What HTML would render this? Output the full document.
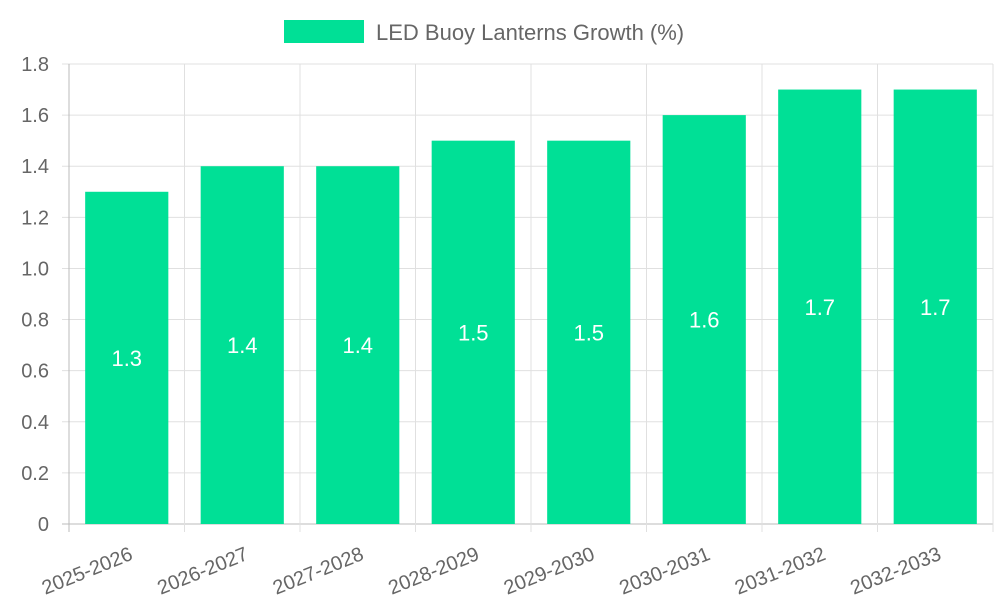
<!DOCTYPE html>
<html><head><meta charset="utf-8"><style>
body{margin:0;background:#fff;}
svg{display:block;font-family:"Liberation Sans",sans-serif;}
</style></head><body>
<svg id="chart" width="1000" height="600">
<g>
<rect x="284" y="20" width="80" height="23" fill="#00e096"></rect>
<text x="376" y="40" font-size="22" fill="#666">LED Buoy Lanterns Growth (%)</text>
</g>
<g id="grid"></g><g id="bars"></g><g id="labels"></g>
</svg>
<script>
const categories=["2025-2026","2026-2027","2027-2028","2028-2029","2029-2030","2030-2031","2031-2032","2032-2033"];
const values=[1.3,1.4,1.4,1.5,1.5,1.6,1.7,1.7];
const yTicks=[0,0.2,0.4,0.6,0.8,1.0,1.2,1.4,1.6,1.8];
const yTickLabels=["0","0.2","0.4","0.6","0.8","1.0","1.2","1.4","1.6","1.8"];
const L=69,R=993,T=64,B=524,yMax=1.8;
const ns="http://www.w3.org/2000/svg";
const step=(R-L)/categories.length;
const y=v=>B-(v/yMax)*(B-T);
const x=i=>L+i*step;
function mk(tag,attrs,parent){const e=document.createElementNS(ns,tag);for(const k in attrs)e.setAttribute(k,attrs[k]);parent.appendChild(e);return e;}
const grid=document.getElementById('grid'),bars=document.getElementById('bars'),labels=document.getElementById('labels');
yTicks.forEach((t,i)=>{
 const l=mk('line',{x1:L-7,x2:R,y1:y(t),y2:y(t),stroke:i==0?'#bbb':'#e0e0e0','stroke-width':1},grid);
 
 
 const tx=mk('text',{x:L-20,y:y(t)+7,'text-anchor':'end','font-size':20,fill:'#666'},grid);
 tx.textContent=yTickLabels[i];
 
 
});
for(let i=0;i<=categories.length;i++){
 const l=mk('line',{x1:x(i),x2:x(i),y1:T,y2:B+8,stroke:i==0?'#bbb':'#e0e0e0','stroke-width':1},grid);
 
 
}
categories.forEach((c,i)=>{
 const bw=step*0.72,bx=x(i)+(step-bw)/2;
 const r=mk('rect',{x:bx,y:y(values[i]),width:bw,height:B-y(values[i]),fill:'#00e096'},bars);
 
 
 const v=mk('text',{x:x(i)+step/2,y:(y(values[i])+B)/2+8,'text-anchor':'middle','font-size':22,fill:'#fff'},labels);
 v.textContent=values[i];
 
 
 const cx=x(i)+step/2+2,cy=B+22;
 const t=mk('text',{x:cx,y:cy,'text-anchor':'end','font-size':20,fill:'#666',transform:`rotate(-22 ${cx} ${cy}) translate(0 14)`},labels);
 t.textContent=c;
 
 
});
</script>
</body></html>
